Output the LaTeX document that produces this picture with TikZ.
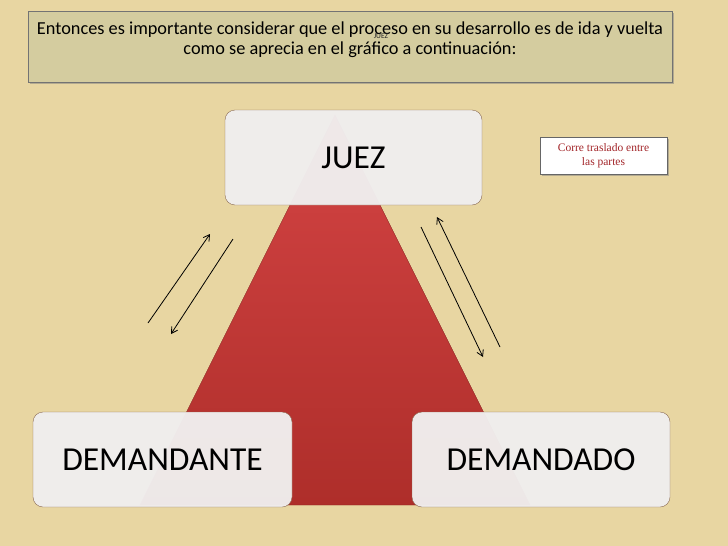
\documentclass[tikz,border=0pt]{standalone}
\usepackage{fontspec}
\setmainfont{Carlito}
\newfontfamily\timesfont{Liberation Serif}
\usetikzlibrary{shadows,arrows.meta}
\definecolor{papel}{HTML}{E8D6A2}
\definecolor{caqui}{HTML}{D4CC9F}
\definecolor{caja}{HTML}{F0EEEE}
\definecolor{borde}{HTML}{8A6A52}
\definecolor{rojoA}{HTML}{D44444}
\definecolor{rojoB}{HTML}{AE2E2A}
\definecolor{tinta}{HTML}{A3262A}
\tikzset{
  parte/.style={draw=borde,fill=caja,fill opacity=0.97,text opacity=1,
    rounded corners=10pt,minimum width=258pt,minimum height=95pt,
    font=\fontsize{33.5}{36}\selectfont},
  flecha/.style={-{Straight Barb[length=6pt,width=7pt]},line width=0.8pt}
}
\begin{document}
\begin{tikzpicture}[x=1pt,y=-1pt]
  \useasboundingbox (0,0) rectangle (728,546);
  \fill[papel] (0,0) rectangle (728,546);
  % encabezado
  \path (350,46.5) node[draw=black!55,fill=caqui,drop shadow,minimum width=644pt,
    minimum height=71pt,align=center,text depth=16pt,
    font=\fontsize{18.3}{20}\selectfont] (titulo)
    {Entonces es importante considerar que el proceso en su desarrollo es de ida y vuelta\\
     como se aprecia en el gráfico a continuación:};
  \path (381,36) node[font=\fontsize{7.5}{8}\selectfont,text=black!85] (mini) {JUEZ};
  % triangulo
  \shade[top color=rojoA,bottom color=rojoB,draw=rojoB!80!black]
    (335,115) -- (530,505) -- (140,505) -- cycle;
  % partes
  \path (353.5,157.5) node[parte,minimum width=257pt] (juez) {JUEZ};
  \path (162.5,459.5) node[parte,minimum width=259pt] (demandante) {DEMANDANTE};
  \path (541,459.5) node[parte] (demandado) {DEMANDADO};
  \path (603.5,155.5) node[draw=black!60,fill=white,drop shadow,minimum width=127pt,
    minimum height=37pt,align=center,text=tinta,
    font=\timesfont\fontsize{11.5}{14}\selectfont] (nota) {Corre traslado entre\\las partes};
  % flechas
  \coordinate (i1) at (148,323); \coordinate (i2) at (210,234);
  \coordinate (i3) at (233,239); \coordinate (i4) at (171,334);
  \coordinate (d1) at (421,227); \coordinate (d2) at (483,357);
  \coordinate (d3) at (500,347); \coordinate (d4) at (437,217);
  \draw[flecha] (i1) -- (i2);
  \draw[flecha] (i3) -- (i4);
  \draw[flecha] (d1) -- (d2);
  \draw[flecha] (d3) -- (d4);
 \end{tikzpicture}
\end{document}
